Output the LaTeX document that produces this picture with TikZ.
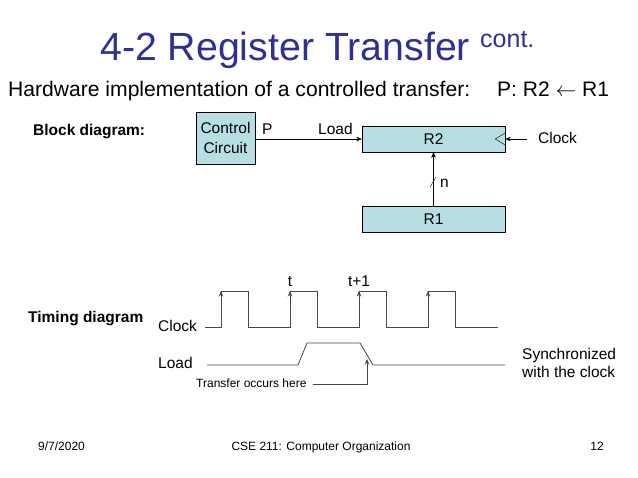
\documentclass[tikz,border=0pt]{standalone}
\usepackage{fontspec}
\setmainfont{Liberation Sans}
\usetikzlibrary{arrows.meta}
\definecolor{titleblue}{RGB}{46,49,146}
\definecolor{boxfill}{RGB}{183,223,227}
\definecolor{wave}{RGB}{70,70,70}
\newcommand{\myfs}[2]{\fontsize{#1}{#2}\selectfont}
\begin{document}
\begin{tikzpicture}[x=1pt,y=-1pt,
  txt/.style={inner sep=0pt, anchor=base west, font=\myfs{15.5}{19}},
  small/.style={inner sep=0pt, anchor=base west, font=\myfs{12}{14}},
  bold/.style={inner sep=0pt, anchor=base west, font=\myfs{15.5}{19}\bfseries},
  reg/.style={draw, fill=boxfill, inner sep=0pt, font=\myfs{15.5}{20}, align=center},
  arr/.style={-{Stealth[length=5.5pt,width=4.5pt]}},
  sig/.style={draw=wave, line width=0.8pt}]
\useasboundingbox (0,0) rectangle (638,478);
% title
\node[inner sep=0pt, anchor=base west, font=\myfs{39.3}{44}, text=titleblue] (title) at (100,61) {4-2 Register Transfer};
\node[inner sep=0pt, anchor=base west, font=\myfs{25}{28}, text=titleblue] (cont) at (480,48) {cont.};
\node[inner sep=0pt, anchor=base west, font=\myfs{21.1}{24}] (hw) at (8,97) {Hardware implementation of a controlled transfer:};
\node[inner sep=0pt, anchor=base west, font=\myfs{21}{24}] (eq) at (497,97) {P: R2 $\leftarrow$ R1};
% block diagram
\node[bold] (bd) at (33,136) {Block diagram:};
\node[reg, minimum width=59pt, minimum height=52pt] (ctrl) at (225.5,138) {Control\\Circuit};
\node[reg, minimum width=143pt, minimum height=26pt] (r2) at (433.5,139) {R2};
\node[reg, minimum width=143pt, minimum height=26pt] (r1) at (433.5,219) {R1};
\node[txt] (p) at (262,135) {P};
\node[txt] (load) at (318,135) {Load};
\node[txt] (clk) at (538,144) {Clock};
\node[txt] (n) at (440,188) {n};
\coordinate (clkin) at (527,139);
\draw[arr] (ctrl.east |- r2.west) -- (r2.west);
\draw[arr] (clkin) -- (r2.east);
\draw ([yshift=-6pt]r2.east) -- ++(-10,-6) -- ++(10,-6);
\draw[arr] (r1.north) -- (r2.south);
\draw (430,187) -- (436,177);
% timing diagram
\node[bold] (td) at (28,323) {Timing diagram};
\node[txt] (clklab) at (158,332) {Clock};
\node[txt] (loadlab) at (158,369) {Load};
\node[txt, anchor=base] (t) at (290,287) {t};
\node[txt, anchor=base] (t1) at (359,287) {t+1};
\draw[sig] (205,327) -- (221,327) -- (221,291) -- (248,291) -- (248,327) -- (290,327) -- (290,291) -- (317,291) -- (317,327) -- (359,327) -- (359,291) -- (386,291) -- (386,327) -- (428,327) -- (428,291) -- (455,291) -- (455,327) -- (498,327);
\foreach \x in {221,290,359,428} \draw[sig, arr] (\x,327) -- (\x,291);
\draw[sig] (207,365) -- (298,365) -- (307,343) -- (360,343) -- (373,365) -- (505,365);
\node[small] (tr) at (196,388) {Transfer occurs here};
\coordinate (tip) at (367,359);
\draw[sig, arr] ([xshift=6pt]tr.east |- 0,384) -| (tip);
\node[txt] (syn1) at (522,360) {Synchronized};
\node[txt] (syn2) at (522,378) {with the clock};
% footer
\node[inner sep=0pt, anchor=base west, font=\myfs{12}{14}] (date) at (38,451) {9/7/2020};
\node[inner sep=0pt, anchor=base, font=\myfs{12}{14}] (course) at (321,451) {CSE 211: Computer Organization};
\node[inner sep=0pt, anchor=base east, font=\myfs{12}{14}] (page) at (604,451) {12};
\end{tikzpicture}
\end{document}
